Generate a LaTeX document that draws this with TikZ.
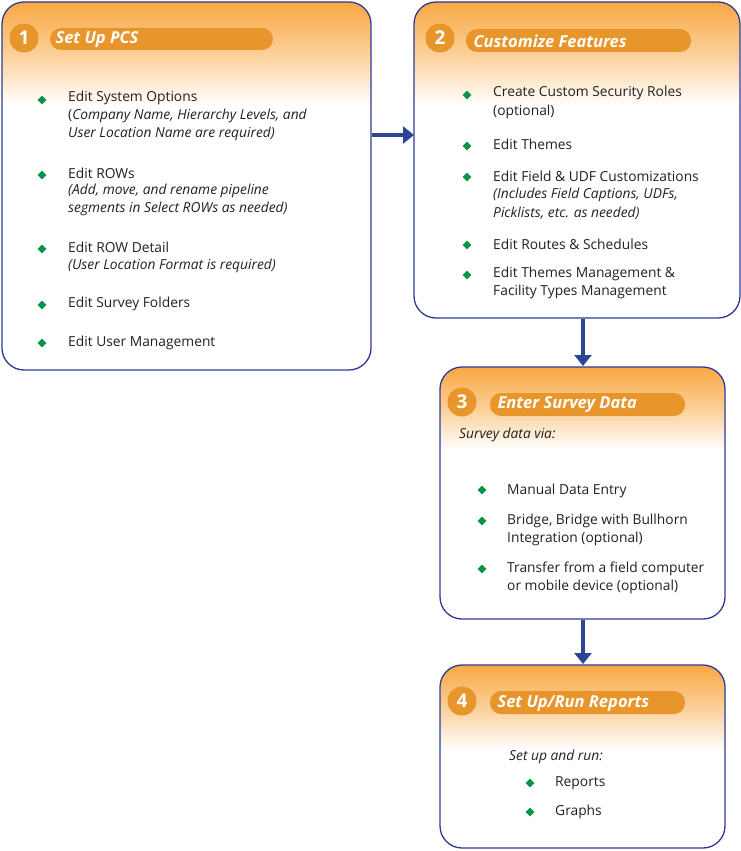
\documentclass[tikz,border=0pt]{standalone}
\usepackage{fontspec}
\setmainfont{Open Sans}
\usetikzlibrary{arrows.meta,shapes.geometric}
\definecolor{bord}{HTML}{2E3A94}
\definecolor{arr}{HTML}{2D4596}
\definecolor{org}{HTML}{F8A843}
\definecolor{bar}{HTML}{E8952C}
\definecolor{grn}{HTML}{0A9447}
\definecolor{txt}{HTML}{231F20}
\tikzset{
 box/.style={draw=bord,line width=1.3pt,rounded corners=22pt},
 circ/.style={circle,fill=bar,minimum size=29pt,inner sep=0,text=white,font=\fontsize{19}{19}\selectfont\bfseries},
 tbar/.style={fill=bar,rounded corners=11pt},
 ttl/.style={anchor=west,text=white,font=\fontsize{16.5}{18}\selectfont\bfseries\itshape},
 bul/.style={diamond,fill=grn,inner sep=0,minimum size=9pt},
 it/.style={anchor=west,text=txt,font=\fontsize{13.8}{16}\selectfont,inner sep=0},
 flow/.style={draw=arr,line width=4pt,-{Triangle[length=11pt,width=17pt]}},
}
\newcommand{\panel}[6]{% x1 y1 x2 y2 gradbottom name
 \begin{scope}
 \clip[rounded corners=22pt] (#1,#2) rectangle (#3,#4);
 \shade[top color=org,bottom color=white,middle color=org!55] (#1,#2) rectangle (#3,#5);
 \end{scope}
 \draw[box] (#1,#2) rectangle (#3,#4);
 \coordinate (#6nw) at (#1,#2);\coordinate (#6se) at (#3,#4);}
\begin{document}
\begin{tikzpicture}[x=1pt,y=-1pt]
\useasboundingbox (0,0) rectangle (741,851);
\panel{2}{2}{371}{370}{105}{b1}
\panel{414}{2}{740}{318}{105}{b2}
\panel{440}{367}{725}{619}{450}{b3}
\panel{440}{665}{725}{848}{750}{b4}
% headers
\fill[tbar] (50,28) rectangle (273,50);
\node[circ] (c1) at (24,38) {1};
\node[ttl] (t1) at (52,40) {Set Up PCS};
\fill[tbar] (466,29) rectangle (691,52);
\node[circ] (c2) at (440,38) {2};
\node[ttl] (t2) at (470,41) {Customize Features};
\fill[tbar] (490,393) rectangle (685,416);
\node[circ] (c3) at (462,402) {3};
\node[ttl] (t3) at (494,405) {Enter Survey Data};
\fill[tbar] (490,691) rectangle (685,714);
\node[circ] (c4) at (462,701) {4};
\node[ttl] (t4) at (494,703) {Set Up/Run Reports};
% box1
\begin{scope}[yshift=-2pt]
\foreach \y/\n in {98/a,173/b,247/c,303/d,341/e}{\node[bul] (p1\n) at (42,\y) {};}
\node[it] (l1a) at (68,96) {Edit System Options};
\node[it] (l1a2) at (68,114) {(\textit{Company Name, Hierarchy Levels, and}};
\node[it] (l1a3) at (68,132) {\textit{User Location Name are required)}};
\node[it] (l1b) at (68,171) {Edit ROWs};
\node[it] (l1b2) at (68,189) {\textit{(Add, move, and rename pipeline}};
\node[it] (l1b3) at (68,207) {\textit{segments in Select ROWs as needed)}};
\node[it] (l1c) at (68,245) {Edit ROW Detail};
\node[it] (l1c2) at (68,264) {\textit{(User Location Format is required)}};
\node[it] (l1d) at (68,302) {Edit Survey Folders};
\node[it] (l1e) at (68,341) {Edit User Management};
% box2
\foreach \y/\n in {93/a,144/b,175/c,243/d,273/e}{\node[bul] (p2\n) at (467,\y) {};}
\node[it] (l2a) at (493,91) {Create Custom Security Roles};
\node[it] (l2a2) at (493,110) {(optional)};
\node[it] (l2b) at (493,142) {Edit Themes};
\node[it] (l2c) at (493,174) {Edit Field \& UDF Customizations};
\node[it] (l2c2) at (493,193) {\textit{(Includes Field Captions, UDFs,}};
\node[it] (l2c3) at (493,211) {\textit{Picklists, etc. as needed)}};
\node[it] (l2d) at (493,242) {Edit Routes \& Schedules};
\node[it] (l2e) at (493,272) {Edit Themes Management \&};
\node[it] (l2e2) at (493,290) {Facility Types Management};
% box3
\node[it] (s3) at (459,433) {\textit{Survey data via:}};
\foreach \y/\n in {488/a,519/b,567/c}{\node[bul] (p3\n) at (482,\y) {};}
\node[it] (l3a) at (507,489) {Manual Data Entry};
\node[it] (l3b) at (507,519) {Bridge, Bridge with Bullhorn};
\node[it] (l3b2) at (507,537) {Integration (optional)};
\node[it] (l3c) at (507,567) {Transfer from a field computer};
\node[it] (l3c2) at (507,585) {or mobile device (optional)};
% box4
\node[it] (s4) at (509,755) {\textit{Set up and run:}};
\foreach \y/\n in {781/a,810/b}{\node[bul] (p4\n) at (530,\y) {};}
\node[it] (l4a) at (555,781) {Reports};
\node[it] (l4b) at (555,810) {Graphs};
\end{scope}
% arrows
\coordinate (a1) at (372,135); \coordinate (a2) at (414,135);
\coordinate (a3) at (583,319); \coordinate (a4) at (583,366);
\coordinate (a5) at (583,620); \coordinate (a6) at (583,664);
\draw[flow] (a1) -- (a2);
\draw[flow] (a3) -- (a4);
\draw[flow] (a5) -- (a6);
\end{tikzpicture}
\end{document}
